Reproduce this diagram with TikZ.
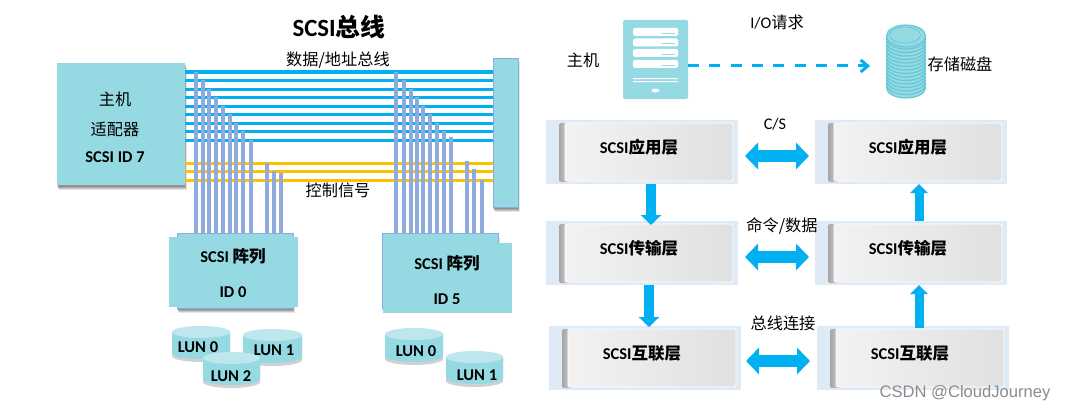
\documentclass[tikz,border=0pt]{standalone}
\usepackage{fontspec}
\setmainfont{Carlito}
\newfontfamily\cjk{Noto Sans CJK SC}
\newfontfamily\wm{Liberation Sans}
\usetikzlibrary{arrows.meta,shadows,calc,shapes.geometric}
\definecolor{teal1}{HTML}{95DAE3}
\definecolor{teal2}{HTML}{BDE7ED}
\definecolor{teal3}{HTML}{62C6D6}
\definecolor{bus}{HTML}{00B0F0}
\definecolor{ctl}{HTML}{FFC000}
\definecolor{wire}{HTML}{8FAADC}
\definecolor{panel}{HTML}{DEEAF6}
\newcommand\boxat[6][]{\pgfmathsetmacro\bcx{(#3+#5)/2}\pgfmathsetmacro\bcy{(#4+#6)/2}%
  \node[box,#1,minimum width={(#5-(#3))*1pt},minimum height={(#6-(#4))*1pt}] (#2) at (\bcx,\bcy) {};}
\newcommand\layer[4]{%
  \boxat[fill=panel]{#1}{#2}{#3}{#2+192}{#3+64}
  \boxat[side]{#1s}{#2+13}{#3+3}{#2+24}{#3+62}
  \boxat[front]{#1f}{#2+19}{#3+3}{#2+187}{#3+61}
  \node[lbl] (#1t) at (#2+93,#3+27) {#4};}
\newcommand\lun[5]{%
  \fill[black,opacity=.18] (#2,#3+6) -- (#2,#5-3) arc[start angle=180,end angle=360,x radius={(#4-(#2))/2*1pt},y radius=6pt] -- (#4,#3+6) -- cycle;
  \fill[teal1] (#2,#3+6) -- (#2,#5-6) arc[start angle=180,end angle=360,x radius={(#4-(#2))/2*1pt},y radius=6pt] -- (#4,#3+6) -- cycle;
  \pgfmathsetmacro\bcx{(#2+#4)/2}
  \node[ellipse,inner sep=0,fill=teal2,minimum width={(#4-(#2))*1pt},minimum height=12pt] (#1) at (\bcx,#3+6) {};}
\tikzset{
  x=1pt,y=-1pt,
  box/.style={inner sep=0,outer sep=0,rectangle},
  shade1/.style={preaction={fill=black,opacity=.14,transform canvas={xshift=0pt,yshift=-1.5pt}},
    preaction={fill=black,opacity=.14,transform canvas={xshift=.5pt,yshift=-2.5pt}},
    preaction={fill=black,opacity=.14,transform canvas={xshift=1pt,yshift=-3.5pt}},
    preaction={fill=black,opacity=.10,transform canvas={xshift=1.5pt,yshift=-4.5pt}}},
  tealb/.style={fill=teal1,shade1},
  side/.style={left color=gray!70,right color=gray!35,rounded corners=1.5pt},
  front/.style={left color=gray!10,right color=gray!24,rounded corners=1.5pt,draw=white,line width=.8pt},
  lbl/.style={font=\bfseries\fontsize{16.5}{16.5}\selectfont,inner sep=0},
  txt/.style={font=\fontsize{16.2}{17}\selectfont,inner sep=0},
  bold/.style={font=\bfseries\fontsize{16.5}{16.5}\selectfont,inner sep=0},
  busl/.style={bus,line width=3pt},
  ctll/.style={ctl,line width=3pt},
  wirel/.style={wire,line width=4.5pt},
  blockv/.style={bus,line width=10pt,-{Triangle[length=10pt,width=20pt]}},
  blockd/.style={bus,line width=12pt,{Triangle[length=13pt,width=26pt]}-{Triangle[length=13pt,width=26pt]}},
}
\begin{document}
\begin{tikzpicture}
\useasboundingbox (0,0) rectangle (1065,412);
% host adapter
\boxat[tealb]{host}{57}{63}{185}{185}
\boxat[tealb,draw=wire,line width=.8pt]{term}{493}{58}{518}{207}
% bus lines
\foreach \y in {72,80,89,97,106,114,123,131,140}
  \draw[busl] (host.east |- 0,\y) -- (term.west |- 0,\y);
\foreach \y in {163,171.5,180}
  \draw[ctll] (host.east |- 0,\y) -- (term.west |- 0,\y);
% arrays
\boxat[tealb,draw=wire,line width=.8pt]{a0b}{177}{233}{293}{308}
\boxat[fill=teal1]{a0}{169}{237}{298}{307}
\boxat[tealb,draw=wire,line width=.8pt]{a5b}{382}{233}{498}{308}
\boxat[fill=teal1]{a5}{383}{243}{512}{313}
\fill[teal1] (383,234) rectangle (497,244);
% wires
\foreach \x/\t in {196/72,203/80,209/89,216/97,223/106,230/114,236/123,243/131,251/140,267/163,274/171,281/173}
  \draw[wirel] (\x,\t) -- (\x,0 |- a0b.north);
\foreach \x/\t in {396/72,404/80,411/89,417/97,423/106,430/114,437/123,444/131,451/137,467/161,474/169,482/180}
  \draw[wirel] (\x,\t) -- (\x,0 |- a5b.north);
% texts left
\node[font=\bfseries\fontsize{24.8}{25}\selectfont,inner sep=0] (title) at (339,27) {SCSI{\cjk 总线}};
\node[txt] (t1) at (338,60) {\cjk 数据/地址总线};
\node[txt] (t2) at (338,190) {\cjk 控制信号};
\node[txt] (t3) at (115,99) {\cjk 主机};
\node[txt] (t4) at (115,129) {\cjk 适配器};
\node[bold] (t5) at (115,157) {SCSI ID 7};
\node[lbl] (t6) at (233,256) {SCSI {\cjk 阵列}};
\node[bold] (t7) at (233,292) {ID 0};
\node[lbl] (t8) at (447,263) {SCSI {\cjk 阵列}};
\node[bold] (t9) at (447,299) {ID 5};
% LUNs
\lun{l1}{172}{326}{230}{359}
\lun{l2}{243}{329}{302}{363}
\lun{l3}{203}{352}{260}{385}
\lun{l4}{385}{328}{443}{362}
\lun{l5}{446}{351}{503}{384}
\node[bold] (l1t) at (198,347) {LUN 0};
\node[bold] (l2t) at (274,350) {LUN 1};
\node[bold] (l3t) at (231,376) {LUN 2};
\node[bold] (l4t) at (416,351) {LUN 0};
\node[bold] (l5t) at (477,375) {LUN 1};
% server
\boxat[fill=teal1,rounded corners=1.5pt]{srv}{623}{20}{688}{99}
\foreach \y in {28,38.5,49,60}{
  \fill[white,rounded corners=1.5pt] (633,\y) rectangle (678,\y+8);
  \fill[teal1] (662,\y+5) rectangle (675,\y+6);}
\fill[white] (633,78) rectangle (678,79) (633,81) rectangle (678,82);
\fill[white] (655.5,90.5) ellipse[x radius=4,y radius=2];
% disk
\foreach \y in {88,84.5,81,77.5,74,70.5,67,63.5,60,56.5,53,49.5,46,42.5,39}
  \draw[fill=teal1,draw=teal3,line width=1.1pt] (906,\y) ellipse[x radius=19.5,y radius=10];
\draw[fill=teal1,draw=teal3,line width=1.1pt] (906,36) ellipse[x radius=19.5,y radius=11];
\draw[teal3,line width=.7pt] (905,35) ellipse[x radius=15.5,y radius=8];
\node[inner sep=0] (disk) at (906,60) {};
\coordinate (dst) at (870,66);
\draw[bus,line width=3pt,dash pattern=on 11pt off 10.3pt,-{Straight Barb[length=7pt,width=12pt,line width=3pt]}] (srv.east |- dst) -- (dst);
\node[txt] (t10) at (777,22) {I/O{\cjk 请求}};
\node[txt] (t11) at (583,60) {\cjk 主机};
\node[txt] (t12) at (960,64) {\cjk 存储磁盘};
% layers
\layer{la1}{546}{120}{SCSI{\cjk 应用层}}
\layer{la2}{546}{221}{SCSI{\cjk 传输层}}
\layer{la3}{549}{326}{SCSI{\cjk 互联层}}
\layer{lb1}{815}{120}{SCSI{\cjk 应用层}}
\layer{lb2}{815}{221}{SCSI{\cjk 传输层}}
\layer{lb3}{817}{326}{SCSI{\cjk 互联层}}
% block arrows
\draw[blockv] ([xshift=9pt]la1.south) -- ([xshift=9pt,yshift=-4pt]la2.north);
\draw[blockv] ([xshift=7pt]la2.south) -- ([xshift=4pt,yshift=-1pt]la3.north);
\draw[blockv,line width=9pt,-{Triangle[length=9pt,width=17pt]}] ([xshift=8pt]lb2.north) -- ([xshift=8pt]lb1.south);
\draw[blockv,line width=9pt,-{Triangle[length=9pt,width=17pt]}] ([xshift=6pt,yshift=-2pt]lb3.north) -- ([xshift=8pt]lb2.south);
\draw[blockd] ([xshift=7pt,yshift=-4pt]la1.east) -- ([xshift=-6pt,yshift=-4pt]lb1.west);
\draw[blockd] ([xshift=7pt,yshift=-4pt]la2.east) -- ([xshift=-6pt,yshift=-4pt]lb2.west);
\draw[blockd] ([xshift=5pt,yshift=-3pt]la3.east) -- ([xshift=-7pt,yshift=-3pt]lb3.west);
\node[txt] (t13) at (775,124) {C/S};
\node[txt] (t14) at (782,226) {\cjk 命令/数据};
\node[txt] (t15) at (783,323) {\cjk 总线连接};
\node[font=\fontsize{16.6}{17}\selectfont\wm,text=black!45,inner sep=0] (wm) at (965,393) {CSDN @CloudJourney};
\end{tikzpicture}
\end{document}
